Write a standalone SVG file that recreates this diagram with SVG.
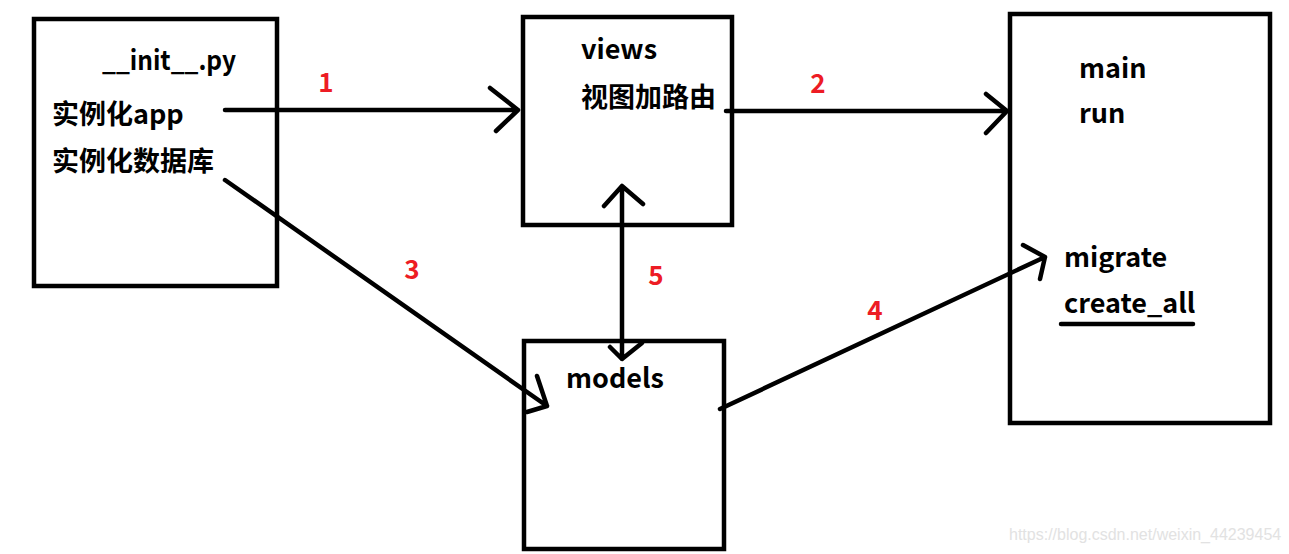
<svg xmlns="http://www.w3.org/2000/svg" width="1289" height="554" viewBox="0 0 1289 554">
<style>
.box{fill:none;stroke:#000;stroke-width:4.5}
.ln{fill:none;stroke:#000;stroke-width:4.5;stroke-linecap:round;stroke-linejoin:round}
.t{font-family:"Microsoft YaHei","Noto Sans CJK SC","Noto Sans",sans-serif;font-weight:bold;font-size:27px;fill:#000}
.n{font-family:"Microsoft YaHei","Noto Sans CJK SC","Noto Sans",sans-serif;font-weight:bold;font-size:26px;fill:#ed1c24;text-anchor:middle}
.wm{font-family:"Liberation Sans",Arial,sans-serif;font-size:16px;fill:#e2e2e2}
</style>
<rect width="1289" height="554" fill="#fff"/>
<g id="init">
<rect class="box" x="34" y="19" width="243" height="267"/>
<text class="t" x="102" y="70" textLength="134" lengthAdjust="spacingAndGlyphs">__init__.py</text>
<text class="t" x="52" y="124">实例化app</text>
<text class="t" x="52" y="171">实例化数据库</text>
</g>
<g id="views">
<rect class="box" x="523" y="17" width="209" height="208"/>
<text class="t" x="581" y="59">views</text>
<text class="t" x="581" y="107">视图加路由</text>
</g>
<g id="main">
<rect class="box" x="1010" y="14" width="260" height="409"/>
<text class="t" x="1079" y="78">main</text>
<text class="t" x="1079" y="123">run</text>
<text class="t" x="1064" y="267">migrate</text>
<text class="t" x="1064" y="313">create_all</text>
<line class="ln" x1="1061" y1="324" x2="1193" y2="324"/>
</g>
<g id="models">
<rect class="box" x="524" y="341" width="200" height="208"/>
<text class="t" x="566" y="388">models</text>
</g>
<g id="connectors">
<path class="ln" d="M225,110 H518 M490,88 L518,110 L496,131"/>
<path class="ln" d="M726,111 H1007 M986,94 L1007,111 L986,133"/>
<path class="ln" d="M225,180 L547,406 M537,376 L547,406 L527,412"/>
<path class="ln" d="M720,409 L1045,257 M1023,245 L1045,257 L1040,279"/>
<path class="ln" d="M622,186 V359 M604,206 L622,186 L643,204 M610,347 L622,359 L642,343"/>
</g>
<g id="labels">
<text class="n" x="326" y="92">1</text>
<text class="n" x="818" y="93">2</text>
<text class="n" x="412" y="279">3</text>
<text class="n" x="875" y="320">4</text>
<text class="n" x="656" y="285">5</text>
</g>
<text class="wm" x="1009" y="540">https://blog.csdn.net/weixin_44239454</text>
</svg>
